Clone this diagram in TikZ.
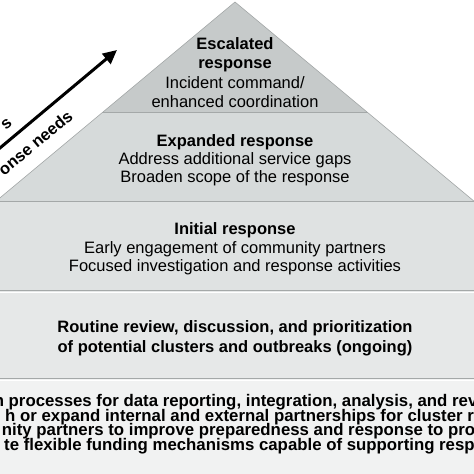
\documentclass[tikz,border=0pt]{standalone}
\usepackage{fontspec}
\setmainfont{Liberation Sans}
\usetikzlibrary{arrows.meta}
\definecolor{tierA}{HTML}{C6CACA}
\definecolor{tierB}{HTML}{D6DADA}
\definecolor{tierC}{HTML}{DFE2E2}
\definecolor{tierD}{HTML}{E6E8E8}
\definecolor{tierE}{HTML}{F1F2F2}
\definecolor{sepline}{HTML}{A4A8A8}
\begin{document}
\begin{tikzpicture}[x=1pt,y=-1pt,
  lbl/.style={anchor=base,inner sep=0pt,text=black,font=\fontsize{16.5}{18}\selectfont},
  lblb/.style={lbl,font=\fontsize{16.5}{18}\selectfont\bfseries},
  lblw/.style={lblb,anchor=base west,font=\fontsize{16.8}{18}\selectfont\bfseries},
  diag/.style={lblb,rotate=39.8,anchor=base east},
  sep/.style={draw=sepline,line width=0.9pt},
  edge/.style={draw=sepline,line width=0.6pt},
  bigarrow/.style={line width=3pt,-{Triangle[length=14pt,width=13pt]}}]
\useasboundingbox (0,0) rectangle (474,474);
\fill[white] (0,0) rectangle (474,474);
% corner coordinates of the pyramid
\coordinate (apex) at (235,2);
\coordinate (tl) at (102.4,112.5);
\coordinate (tr) at (367.6,112.5);
\coordinate (bl) at (-3.8,201);
\coordinate (br) at (473.8,201);
% tiers
\fill[tierE] (-5,378) rectangle (480,480);
\fill[tierD] (-5,290) rectangle (480,378);
\fill[tierC] (-5,201) rectangle (480,290);
\fill[tierB] (bl) -- (tl) -- (tr) -- (br) -- cycle;
\fill[tierA] (apex) -- (tl) -- (tr) -- cycle;
% edges and separators
\draw[edge] (bl) -- (apex) -- (br);
\draw[sep] (tl) -- (tr);
\draw[sep] (-5,201) -- (480,201);
\draw[sep] (-5,290) -- (480,290);
\draw[sep] (-5,378) -- (480,378);
\draw[white,line width=0.8pt] (-5,292) -- (480,292);
\draw[white,line width=0.8pt] (-5,380) -- (480,380);
% arrow
\coordinate (arrS) at (-20,164.7);
\coordinate (arrE) at (117,50);
\draw[bigarrow] (arrS) -- (arrE);
\node[diag] (upper) at (13,124) {s};
\node[diag] (lower) at (74,118) {onse needs};
% escalated
\node[lblb] (e1) at (235,49) {Escalated};
\node[lblb] (e2) at (235,68.5) {response};
\node[lbl] (e3) at (235,88) {Incident command/};
\node[lbl] (e4) at (235,107.5) {enhanced coordination};
% expanded
\node[lblb] (x1) at (235,146.5) {Expanded response};
\node[lbl] (x2) at (235,164.5) {Address additional service gaps};
\node[lbl] (x3) at (235,182.5) {Broaden scope of the response};
% initial
\node[lblb] (i1) at (235,234.5) {Initial response};
\node[lbl] (i2) at (235,253) {Early engagement of community partners};
\node[lbl] (i3) at (235,271.5) {Focused investigation and response activities};
% routine
\node[lblb] (r1) at (235,332.5) {Routine review, discussion, and prioritization};
\node[lblb] (r2) at (235,352) {of potential clusters and outbreaks (ongoing)};
% foundation
\node[lblw] (f1) at (-6.4,406) {n processes for data reporting, integration, analysis, and rev};
\node[lblw] (f2) at (5,421) {h or expand internal and external partnerships for cluster re};
\node[lblw] (f3) at (1.7,435.5) {nity partners to improve preparedness and response to prog};
\node[lblw] (f4) at (4,450) {te flexible funding mechanisms capable of supporting resp};
\end{tikzpicture}
\end{document}
